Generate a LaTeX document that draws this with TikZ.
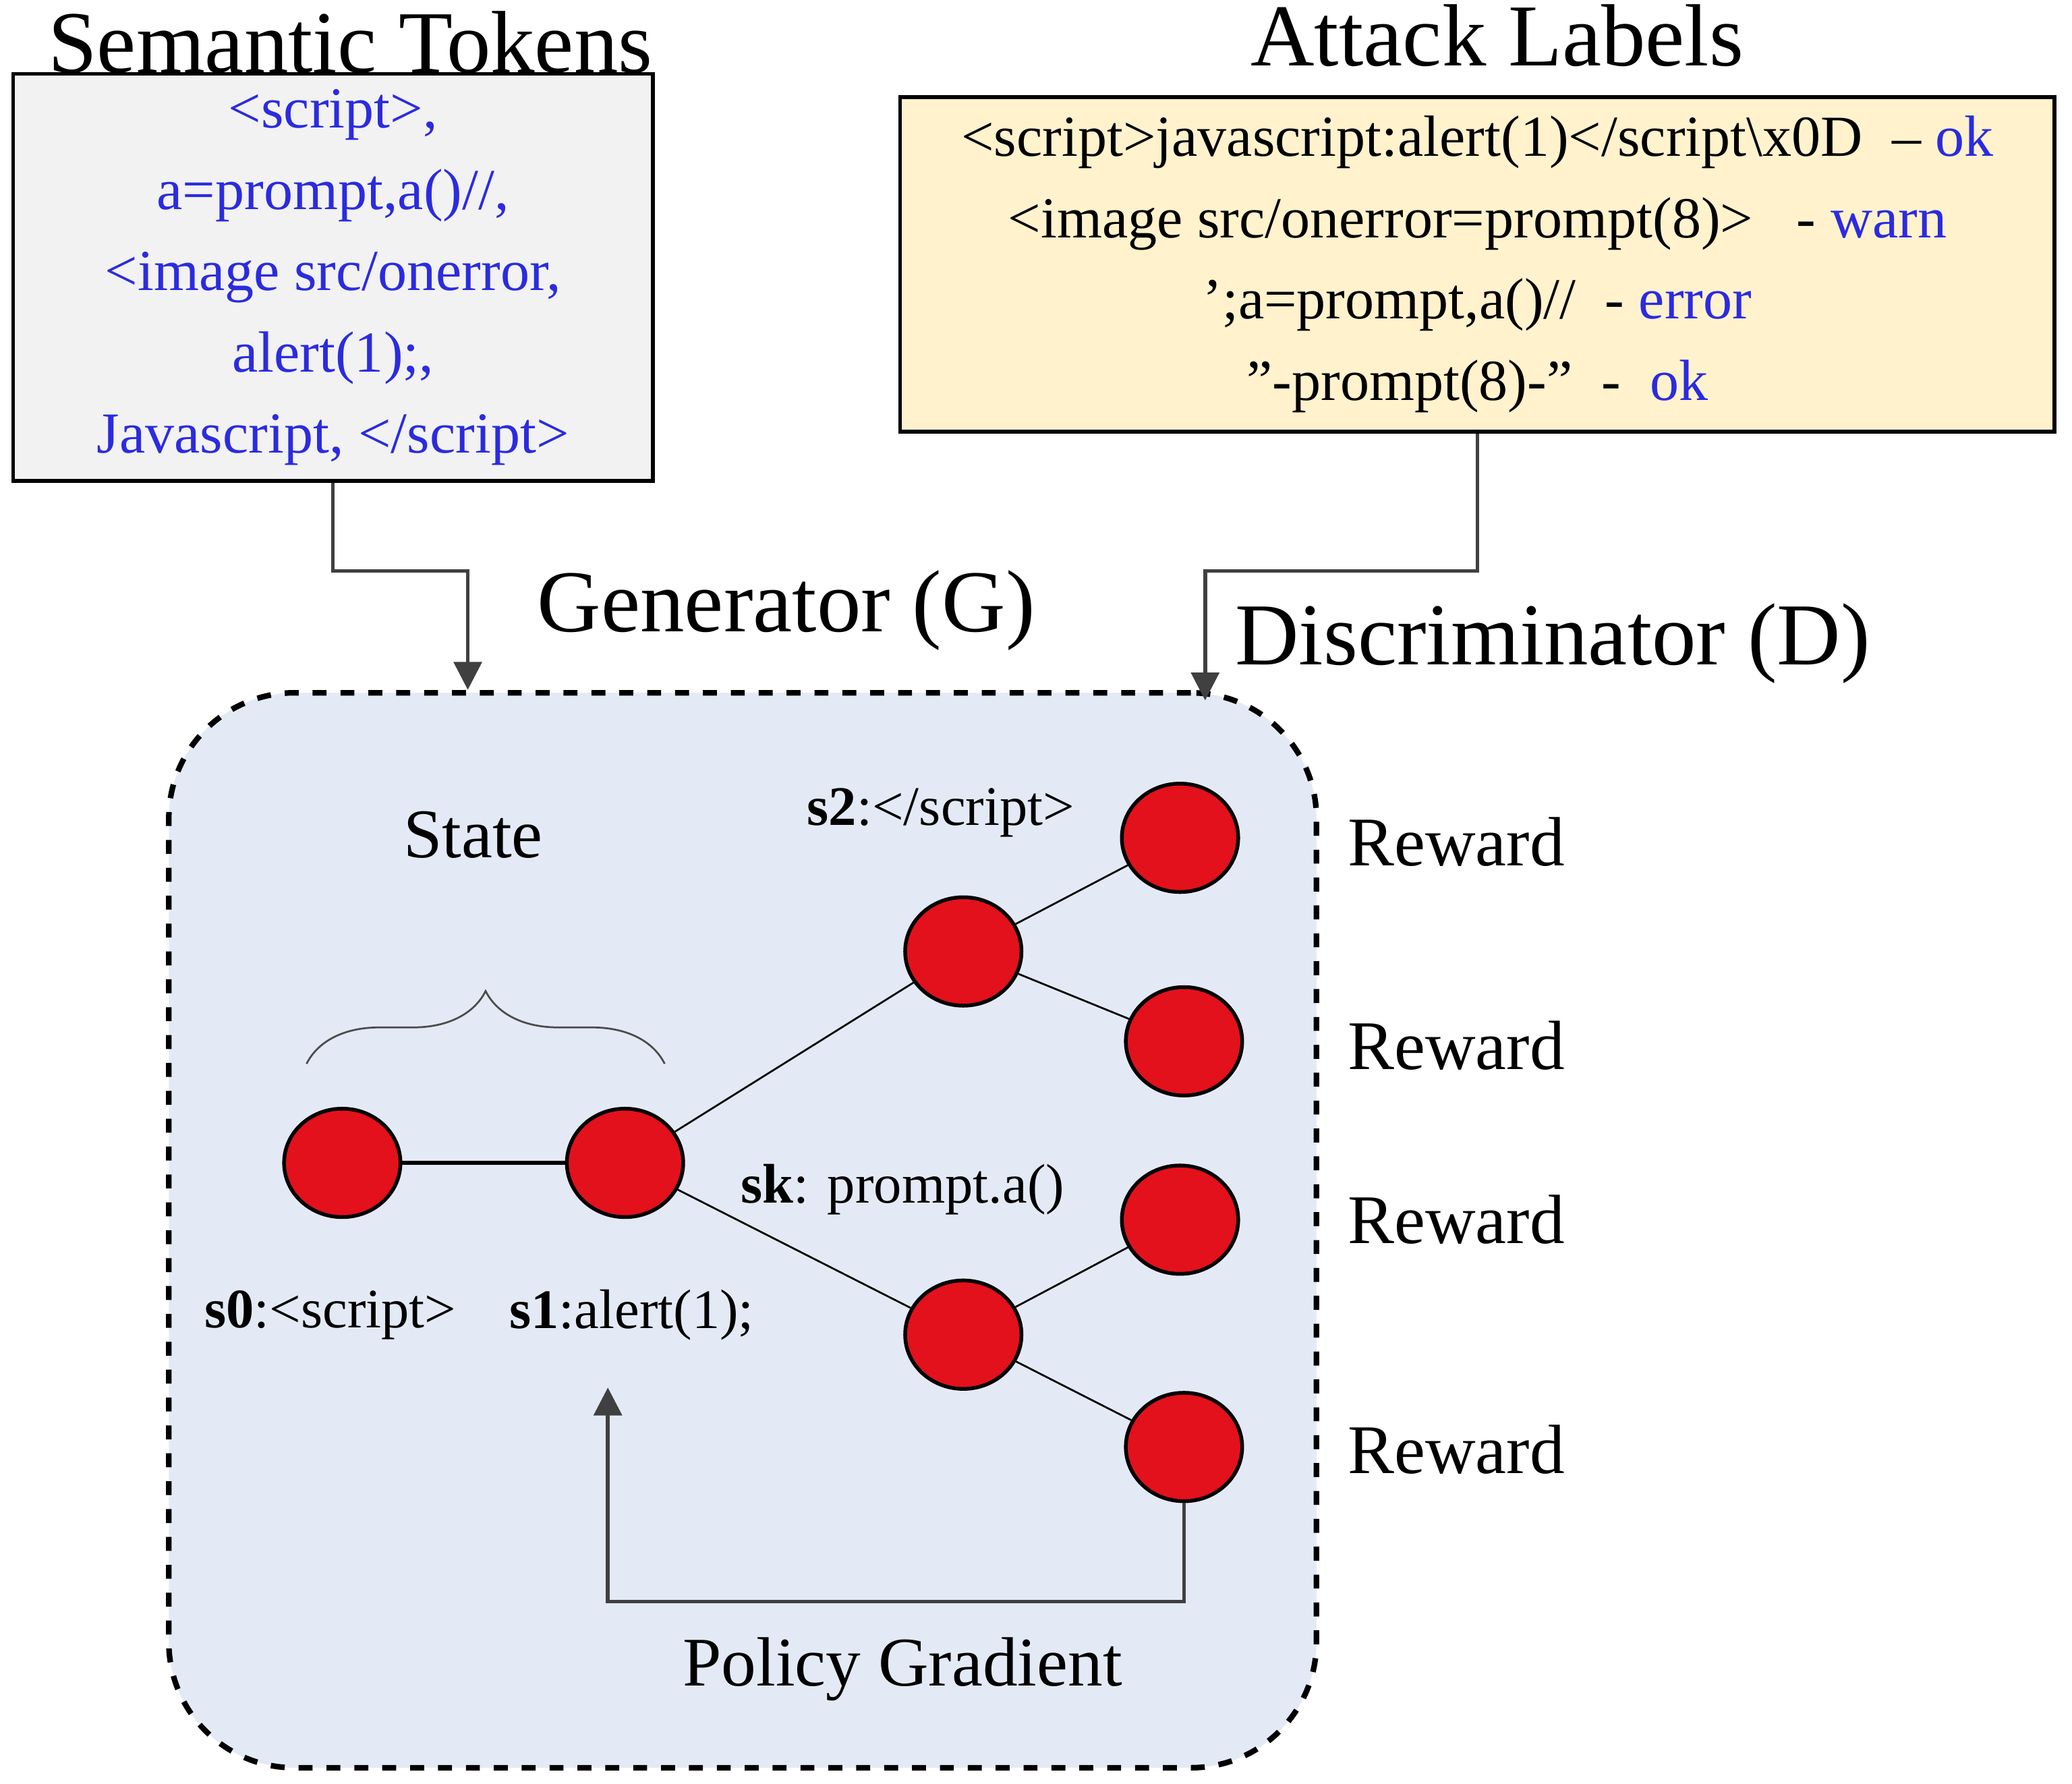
\documentclass[tikz,border=0pt]{standalone}
\usepackage{fontspec}
\setmainfont{Liberation Serif}
\usetikzlibrary{arrows.meta,decorations.pathreplacing,shapes.geometric}
\definecolor{tokblue}{HTML}{2B2BE0}
\definecolor{nodered}{HTML}{E3111B}
\definecolor{genfill}{HTML}{E4EAF5}
\definecolor{labfill}{HTML}{FFF2CC}
\definecolor{tokfill}{HTML}{F2F2F2}
\begin{document}
\begin{tikzpicture}[x=0.01cm,y=-0.01cm,
    title/.style={font=\fontsize{19}{22}\selectfont},
    big/.style={font=\fontsize{15}{18}\selectfont},
    state/.style={ellipse, draw=black, thick, fill=nodered, minimum width=0.88cm, minimum height=0.82cm, inner sep=0pt},
    lab/.style={font=\fontsize{12}{14}\selectfont},
    conn/.style={draw=black!75, thick},
    arr/.style={conn, -{Triangle[length=6pt,width=6pt]}}
]
\useasboundingbox (0,0) rectangle (1568,1350);
% generator region
\node[draw, dashed, very thick, fill=genfill, rounded corners=0.95cm, minimum width=8.68cm, minimum height=8.13cm] (gen) at (562,931) {};
% boxes
\node[draw, thick, fill=tokfill, minimum width=4.84cm, minimum height=2.52cm, align=center, text=tokblue, font=\fontsize{12.5}{17.5}\selectfont] (tok) at (252,210)
  {<script>,\\a=prompt,a()//,\\<image src/onerror,\\alert(1);,\\Javascript, </script>};
\node[draw, thick, fill=labfill, minimum width=8.73cm, minimum height=2.53cm, align=center, font=\fontsize{12.5}{17.5}\selectfont] (atk) at (1118,200)
  {<script>javascript:alert(1)</script\textbackslash x0D\ \ -- \textcolor{tokblue}{ok}\\
   <image src/onerror=prompt(8)>\ \ \ - \textcolor{tokblue}{warn}\\
   ';a=prompt,a()//\ \ - \textcolor{tokblue}{error}\\
   "-prompt(8)-"\ \ - \ \textcolor{tokblue}{ok}};
\node[title] (tokt) at (265,32) {Semantic Tokens};
\node[title] (atkt) at (1133,27) {Attack Labels};
\node[title] (gent) at (595,462) {Generator (G)};
\node[title] (dist) at (1175,487) {Discriminator (D)};
% input arrows
\coordinate (gin) at (354,522);
\coordinate (din) at (912,530);
\draw[arr] (tok.south) |- (300,432) -| (gin);
\draw[arr] (atk.south) |- (1000,432) -| (din);
% tree
\node[state] (c0) at (259,880) {};
\node[state] (c1) at (473,880) {};
\node[state] (c2) at (729,720) {};
\node[state] (c3) at (893,634) {};
\node[state] (c4) at (896,788) {};
\node[state] (c5) at (729,1010) {};
\node[state] (c6) at (893,923) {};
\node[state] (c7) at (896,1095) {};
\draw[thick] (c0) -- (c1);
\draw (c1) -- (c2); \draw (c2) -- (c3); \draw (c2) -- (c4);
\draw (c1) -- (c5); \draw (c5) -- (c6); \draw (c5) -- (c7);
\node[lab] (l2) at (712,615) {\textbf{s2}:</script>};
\node[lab] (lk) at (683,900) {\textbf{sk}: prompt.a()};
\node[lab] (l0) at (250,995) {\textbf{s0}:<script>};
\node[lab] (l1) at (478,995) {\textbf{s1}:alert(1);};
\node[big] (st) at (358,632) {State};
\draw[black!70, decorate, decoration={brace, amplitude=0.55cm}] (232,805) -- (503,805);
\foreach \y/\n in {637/r1,791/r2,923/r3,1097/r4}
  \node[big] (\n) at (1102,\y) {Reward};
% policy gradient
\coordinate (pg) at (460,1050);
\draw[arr] (c7.south) |- (600,1212) -| (pg);
\node[big] (pgt) at (683,1263) {Policy Gradient};
\end{tikzpicture}
\end{document}
